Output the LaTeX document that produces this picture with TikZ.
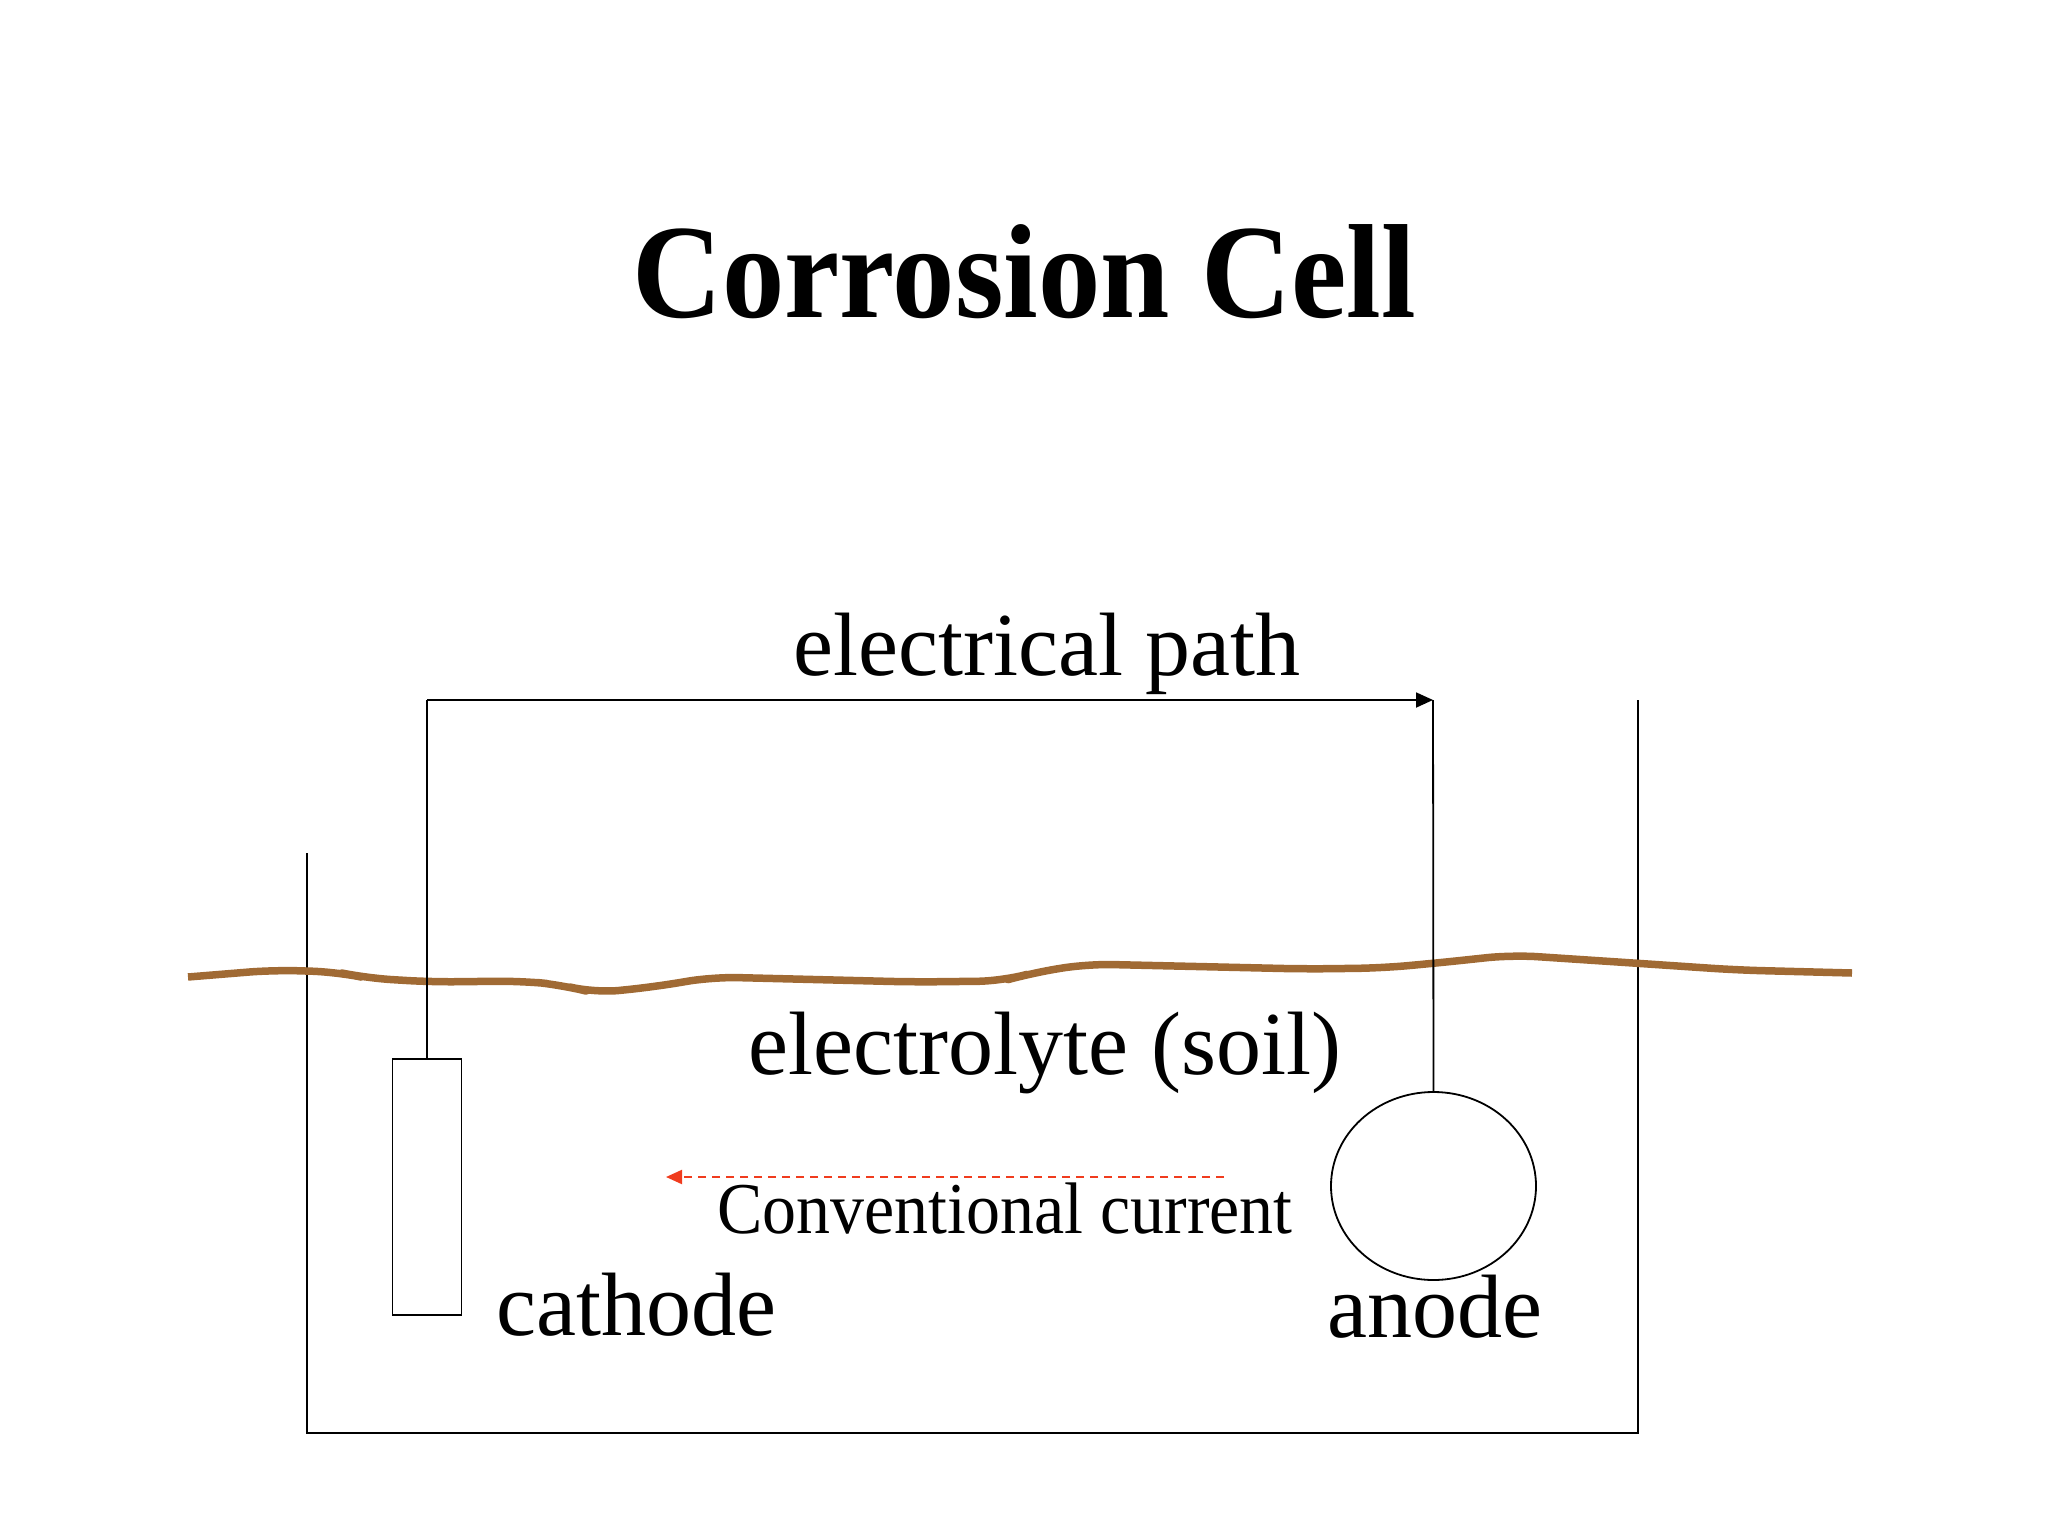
\documentclass[tikz,border=0pt]{standalone}
\usepackage{fontspec}
\setmainfont{Liberation Serif}
\usetikzlibrary{arrows.meta,shapes.geometric}
\definecolor{soil}{RGB}{160,106,52}
\definecolor{curred}{RGB}{240,60,30}
\tikzset{
  wire/.style={draw=black, line width=1.8pt},
  lbl/.style={anchor=base, inner sep=0pt, font=\fontsize{90}{100}\selectfont},
}
\begin{document}
\begin{tikzpicture}[x=1pt,y=-1pt]
\useasboundingbox (0,0) rectangle (2048,1536);
% title
\node[anchor=base, inner sep=0pt] (title) at (1024,317) {\scalebox{0.93}[1]{\fontsize{134}{150}\selectfont\bfseries Corrosion Cell}};
% container
\draw[wire] (307,853) -- (307,1433) -- (1638,1433) -- (1638,700);
% soil line
\draw[soil, line width=7.5pt, line join=round, rounded corners=25pt] (188,977) -- (274,970) -- (337,972) -- (366,978) -- (431,982) -- (522,981) -- (562,985) -- (594,993) -- (653,987) -- (713,977) -- (914,982) -- (1003,981) -- (1032,973) -- (1087,964) -- (1306,969) -- (1382,968) -- (1437,963) -- (1512,955) -- (1633,963) -- (1737,970) -- (1852,973);
% cathode and anode
\node[draw=black, line width=1.8pt, minimum width=69pt, minimum height=256pt, inner sep=0pt, anchor=north] (cathode) at (427,1058) {};
\node[draw=black, line width=1.8pt, ellipse, minimum width=205pt, minimum height=188pt, inner sep=0pt] (anode) at (1433.5,1186) {};
\coordinate (c1) at (427,700);
\coordinate (a1) at (1433,700);
\draw[wire] (cathode.north) -- (c1);
\draw[wire, -{Triangle[length=17pt,width=15pt]}] (c1) -- (a1);
\draw[wire] (a1) -- (anode.north);
% labels
\node[lbl] (ep) at (1047,675) {electrical path};
\node[lbl] (el) at (1045,1074) {electrolyte (soil)};
\node[lbl] (cl) at (636,1335) {cathode};
\node[lbl] (al) at (1435,1337) {anode};
\node[anchor=base, inner sep=0pt] (cc) at (1005,1233) {\scalebox{0.93}[1]{\fontsize{73}{80}\selectfont Conventional current}};
\coordinate (r1) at (1224,1177);
\coordinate (r2) at (666,1177);
\draw[curred, line width=2pt, dash pattern=on 8pt off 6pt, -{Triangle[length=16pt,width=14pt]}] (r1) -- (r2);
\end{tikzpicture}
\end{document}
